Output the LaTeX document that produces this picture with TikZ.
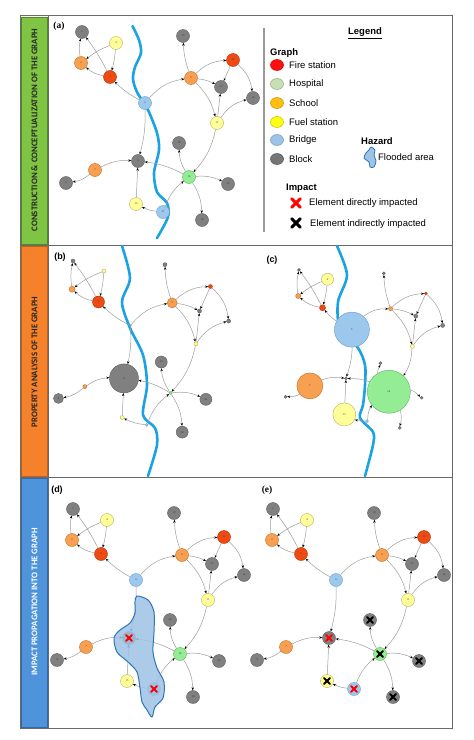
\documentclass[tikz,border=0pt]{standalone}
\usepackage{fontspec}
\setmainfont{Liberation Serif}
\setsansfont{Liberation Sans}
\newfontfamily\carl{Carlito}
\usetikzlibrary{arrows.meta,shapes.geometric}
\definecolor{fblk}{HTML}{808080}\definecolor{dblk}{HTML}{5E5E5E}
\definecolor{fsch}{HTML}{F7A052}\definecolor{dsch}{HTML}{C46A22}
\definecolor{ffir}{HTML}{EE4A14}\definecolor{dfir}{HTML}{B03000}
\definecolor{ffue}{HTML}{FFFF9A}\definecolor{dfue}{HTML}{B4B060}
\definecolor{fbrg}{HTML}{9CC8EE}\definecolor{dbrg}{HTML}{6A9CC8}
\definecolor{fhos}{HTML}{94EC94}\definecolor{dhos}{HTML}{58B458}
\definecolor{river}{HTML}{1AA3E0}
\definecolor{floodf}{HTML}{9DC3E6}\definecolor{floodd}{HTML}{2E75B6}
\definecolor{barg}{HTML}{80C444}\definecolor{bargd}{HTML}{4F8A26}
\definecolor{baro}{HTML}{F5822A}\definecolor{barod}{HTML}{C0601A}
\definecolor{barb}{HTML}{4F94DB}\definecolor{barbd}{HTML}{2F6AAE}
\definecolor{framec}{HTML}{6A6A6A}
\tikzset{
  gn/.style={circle, inner sep=0pt, line width=0.4bp, font=\fontsize{2.8}{3}\selectfont, text=black!80},
  ge/.style={draw=black!38, line width=0.5bp, -{Stealth[length=3bp,width=2.4bp,color=black]}},
  riv/.style={draw=river, line width=2.6bp, line cap=round},
  leg/.style={font=\sffamily\fontsize{9.5}{11}\selectfont, anchor=west, inner sep=0pt},
  legb/.style={font=\sffamily\bfseries\fontsize{9.5}{11}\selectfont, anchor=west, inner sep=0pt},
  legdot/.style={ellipse, minimum width=13bp, minimum height=11bp, inner sep=0pt, line width=0.5bp},
  bartxt/.style={rotate=90, font=\carl\bfseries\fontsize{8.8}{10}\selectfont},
  plab/.style={font=\bfseries\fontsize{9.5}{11}\selectfont, inner sep=0pt},
}
\newcommand\drawgraph[2]{%
  \foreach \gk/\typ/\gx/\gy in {1/blk/82/32, 2/sch/81/63, 3/fir/110/77, 4/fue/116/43, 5/brg/145/103, 6/blk/138/161, 7/sch/95/170, 8/blk/66/183, 9/sch/191/78, 10/blk/183/36, 11/fue/217/123, 12/fir/233/60, 13/blk/221/87, 14/blk/253/98, 15/fue/136/204, 16/hos/189/177, 17/brg/163/212, 18/blk/202/220, 19/blk/179/143, 20/blk/228/184}{%
    \pgfmathsetmacro\gdd{{#2}[\gk-1]}%
    \node[gn, fill=f\typ, draw=d\typ, minimum size=\gdd bp] (#1\gk) at (\gx,\gy) {\ifdim\gdd pt>8pt \gk\fi};
  }%
  \foreach \es/\et/\eb in {4/2/-8, 4/3/5, 3/2/15, 3/1/-5, 2/1/10, 5/3/8, 5/9/20, 5/6/8, 9/10/8, 9/12/20, 9/13/10, 9/11/15, 12/13/0, 12/14/20, 11/13/0, 11/14/20, 11/16/15, 16/19/15, 16/20/15, 16/18/15, 16/6/-10, 7/6/15, 7/8/15, 15/6/0, 17/15/10, 17/16/15}{%
    \draw[ge] (#1\es) to[bend left=\eb] (#1\et);
  }%
}
\newcommand\xmk[4]{%
  \begin{scope}[shift={#1}]
    \draw[#2, line width=#4, line cap=round] (-#3,-#3) -- (#3,#3) (-#3,#3) -- (#3,-#3);
  \end{scope}}
\begin{document}
\begin{tikzpicture}[x=1bp,y=-1bp]
\useasboundingbox (0,0) rectangle (474,740);
\fill[white] (0,0) rectangle (474,740);
% side bars
\fill[barg, draw=bargd, line width=0.8bp] (21.5,17) rectangle (47.5,244);
\fill[baro, draw=barod, line width=0.8bp] (21.5,246) rectangle (47.5,476);
\fill[barb, draw=barbd, line width=0.8bp] (21.5,478) rectangle (47.5,727);
\node[bartxt, text=black!85] (ta) at (34.5,130) {CONSTRUCTION \& CONCEPTUALIZATION OF THE GRAPH};
\node[bartxt, text=black!85] (tb) at (34.5,362) {PROPERTY ANALYSIS OF THE GRAPH};
\node[bartxt, text=white] (tc) at (34.5,602) {IMPACT PROPAGATION INTO THE GRAPH};
% frame
\draw[framec, line width=1bp] (20,16) rectangle (452,728);
\draw[framec, line width=1bp] (20,245) -- (452,245) (20,477) -- (452,477);
\draw[framec, line width=0.8bp] (48,16) -- (48,728);
% ---------- panel (a)
\node[plab, font=\rmfamily\bfseries\fontsize{9.5}{11}\selectfont] (la) at (59,26) {(a)};
\draw[riv] plot[smooth] coordinates {(132.5,26) (139,40) (141,53) (135,67) (133,79) (137,92) (148,110) (157,133) (159,150) (154,173) (157,192) (167,203) (168,217) (157,238)};
\drawgraph{a}{13,13,13,13,13,13,13,13,13,13,13,13,13,13,13,13,13,13,13,13}
% legend
\draw[black!40, line width=1.2bp] (264,28) -- (264,232);
\node[legb, anchor=center] (lg) at (365,33) {\underline{Legend}};
\node[legb] (lgg) at (270,53) {Graph};
\foreach \yy/\fc/\dc/\tx in {65/FF1010/C00000/Fire station, 84/C6E0B4/8EA880/Hospital, 103/FFBE10/C89000/School, 122/FFFF10/C0C000/Fuel station, 140/9DC3E6/6A9CC8/Bridge, 159/767676/505050/Block}{
  \definecolor{tmpf}{HTML}{\fc}\definecolor{tmpd}{HTML}{\dc}
  \node[legdot, fill=tmpf, draw=tmpd] (ld\yy) at (277,\yy) {};
  \node[leg] (lt\yy) at (289,\yy) {\tx};
}
\node[legb] (lhz) at (361,141) {Hazard};
\draw[fill=floodf, draw=floodd, line width=0.8bp] plot[smooth cycle] coordinates {(371,147) (375,150) (374,155) (376,161) (374,167) (370,167) (369,162) (364,158) (366,153) (369,150)};
\node[leg] (lfa) at (378,157) {Flooded area};
\node[legb] (lim) at (286,188) {Impact};
\xmk{(296,203)}{red}{4.2}{3bp}
\node[leg] (ldi) at (309,203) {Element directly impacted};
\xmk{(296,223)}{black}{4.2}{3bp}
\node[leg] (lii) at (310,224) {Element indirectly impacted};
% ---------- panel (b)
\node[plab, font=\sffamily\bfseries\fontsize{9}{11}\selectfont] (lb) at (60,257) {(b)};
\draw[riv] plot[smooth] coordinates {(122,246) (130,278) (122,302) (130,328) (143,355) (147,385) (143,415) (155,428) (157,445) (148,476)};
\begin{scope}[shift={(-1.6,231.9)}, scale=0.91]
\drawgraph{b}{4,6,12,4,2,29,4,10,10,4,4,4,4,4,4,3,3,12,12,12}
\end{scope}
% ---------- panel (c)
\node[plab, font=\sffamily\bfseries\fontsize{9}{11}\selectfont] (lc) at (272,260) {(c)};
\draw[riv] plot[smooth] coordinates {(337,246) (347,275) (338,302) (340,328) (358,348) (365,365) (365,385) (363,405) (360,418) (373,432) (373,445) (365,476)};
\begin{scope}[shift={(230.1,243.1)}, scale=0.84]
\drawgraph{c}{3,5,6,12,35,3,26,3,4,3,4,3,4,4,23,43,3,3,3,3}
\end{scope}
% ---------- panel (d)
\node[plab, font=\sffamily\bfseries\fontsize{9}{11}\selectfont] (ld) at (57,490) {(d)};
\begin{scope}[shift={(-9,477)}]
\drawgraph{d}{13,13,13,13,13,13,13,13,13,13,13,13,13,13,13,13,13,13,13,13}
\end{scope}
\draw[fill=floodf, fill opacity=0.85, draw=floodd, line width=1bp] plot[smooth cycle] coordinates {(137,596) (148,600) (154,612) (154,632) (153,652) (157,668) (164,682) (163,698) (155,707) (152,717) (147,710) (142,702) (140,688) (137,672) (128,662) (117,652) (114,638) (120,630) (130,623) (135,613) (135,602)};
\xmk{(d6)}{red}{3}{1.8bp}
\xmk{(d17)}{red}{3}{1.8bp}
% ---------- panel (e)
\node[plab, font=\rmfamily\bfseries\fontsize{9.5}{11}\selectfont] (le) at (267,490) {(e)};
\begin{scope}[shift={(191,477)}]
\drawgraph{e}{13,13,13,13,13,13,13,13,13,13,13,13,13,13,13,13,13,13,13,13}
\end{scope}
\xmk{(e6)}{red}{3}{1.8bp}
\xmk{(e17)}{red}{3}{1.8bp}
\foreach \nn in {15,16,18,19,20}{\xmk{(e\nn)}{black}{3}{1.8bp}}
\end{tikzpicture}
\end{document}
